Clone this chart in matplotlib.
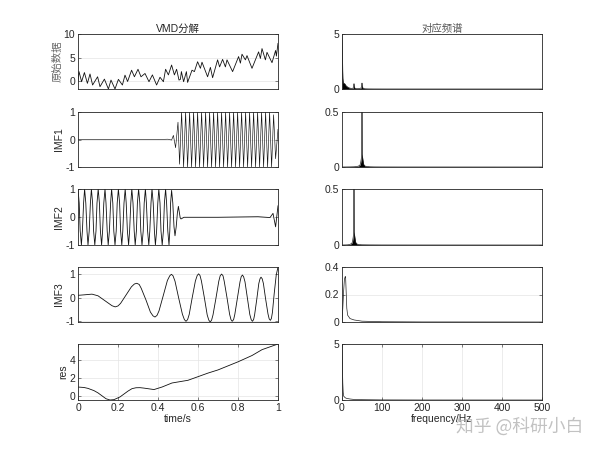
import matplotlib
matplotlib.use('Agg')
import matplotlib.pyplot as plt

# time series (extrema and some points in between)
raw_t = [0, .005, .018, .032, .047, .06, .073, .098, .11, .132, .152, .165, .185, .202, .222, .235, .248, .268,
         .282, .30, .315, .335, .355, .372, .393, .41, .427, .438, .452, .468, .482, .493, .505,
         .512, .517, .528, .542, .548, .57, .582, .598, .612, .62, .648, .662, .673, .698, .708, .723,
         .737, .745, .773, .803, .812, .82, .837, .845, .87, .903, .912, .92, .937, .945, .97, .988, .992, 1.0]
raw_y = [0, 2.0, -.15, 1.8, -.5, 1.5, -.85, .9, -1.2, .4, -1.7, .2, -1.7, .35, -.85, 1.25, -.1, 2.3,
         .9, 2.5, .9, 1.6, -.15, 1.3, -.85, .8, -.15, 2.5, 1.3, 3.4, 1.3, 2.5, .2,
         .35, 2.0, -.15, 2.0, -.3, 2.3, 2.0, 4.1, 2.7, 4.0, .9, 2.9, .7, 4.5, 3.0, 4.6,
         3.0, 4.5, 2.0, 5.2, 3.8, 5.7, 4.5, 5.4, 2.7, 6.2, 4.8, 6.9, 4.5, 6.1, 3.9, 6.5, 5.3, 8.0]

imf1_t = [0, .2, .40, .45, .468, .477, .488, .50, .508,
          .518, .528, .538, .548, .558, .568, .578, .588, .598, .608, .618, .628, .638, .648, .658, .668,
          .678, .688, .698, .708, .718, .728, .738, .748, .758, .768, .778, .788, .798, .808, .818, .828,
          .838, .848, .858, .868, .878, .888, .898, .908, .918, .928, .938, .948, .958, .968, .978, .988, 1.0]
imf1_y = [0, 0, 0, .01, -.02, .15, -.3, .63, -.9,
          1, -1, 1, -1, 1, -1, 1, -1, 1, -1, 1, -1, 1, -1, 1, -1,
          1, -1, 1, -1, 1, -1, 1, -1, 1, -1, 1, -1, 1, -1, 1, -1,
          1, -1, 1, -1, 1, -1, 1, -1, 1, -1, 1, -1, 1, -1, .9, -.7, .37]

imf2_t = [0, .006, .011, .017, .022, .028, .033, .039, .045, .050, .056, .062, .067, .073, .078, .084,
          .090, .095, .101, .107, .112, .118, .123, .129, .135, .140, .146, .151, .157, .163, .168,
          .174, .179, .185, .191, .196, .202, .208, .213, .219, .224, .230, .236, .241, .247, .253,
          .258, .264, .269, .275, .281, .286, .292, .297, .303, .309, .314, .320, .326, .331, .337,
          .342, .348, .354, .359, .365, .370, .376, .382, .387, .393, .399, .404, .410, .415, .421,
          .427, .432, .438, .443, .449, .455, .459, .463, .468, .474, .480, .485, .491, .497, .502,
          .507, .511, .515, .53, .70, .90, .96, .975, .988, 1.0]
imf2_y = [1, .5, -.5, -1, -.5, .5, 1, .5, -.5, -1, -.5, .5, 1, .5, -.5, -1,
          -.5, .5, 1, .5, -.5, -1, -.5, .5, 1, .5, -.5, -1, -.5, .5, 1,
          .5, -.5, -1, -.5, .5, 1, .5, -.5, -1, -.5, .5, 1, .5, -.5, -1,
          -.5, .5, 1, .5, -.5, -1, -.5, .5, 1, .5, -.5, -1, -.5, .5, 1,
          .5, -.5, -1, -.5, .5, 1, .5, -.5, -1, -.5, .5, 1, .5, -.5, -1,
          -.5, .5, 1, .5, -.5, -1, -.5, .5, .95, .5, -.35, -.67, -.35, .15, .38,
          .15, -.03, -.07, -.01, -.01, .01, -.02, .13, -.35, .4]

imf3_t = [0, .03, .07, .10, .12, .15, .17, .186, .20, .213, .24, .267, .282, .294, .306, .316, .34, .362, .375, .385,
          .395, .405, .426, .447, .459, .467, .475, .485, .503, .522, .532, .54, .548, .556, .571, .587, .596, .603,
          .61, .617, .632, .646, .654, .661, .668, .675, .69, .704, .711, .718, .725, .731, .745, .758, .765, .771,
          .778, .784, .797, .81, .816, .822, .828, .835, .847, .859, .866, .872, .878, .883, .894, .904, .91, .915,
          .921, .927, .938, .95, .956, .962, .967, .972, .981, .991, 1.0]
imf3_y = [.10, .12, .15, .08, -.04, -.22, -.34, -.39, -.35, -.24, .11, .46, .58, .61, .56, .40, -.10, -.61, -.77, -.82,
          -.75, -.56, .08, .73, .93, .99, .93, .70, 0, -.70, -.93, -1, -.93, -.71, 0, .71, .94, 1.01,
          .94, .71, -.01, -.73, -.95, -1.03, -.95, -.73, -.01, .70, .93, 1,
          .93, .70, 0, -.70, -.93, -1, -.93, -.71, -.02, .67, .89, .96, .89, .67, -.02, -.71, -.93, -1,
          -.93, -.73, -.06, .6, .8, .87, .8, .6, -.05, -.69, -.9, -.96, -.88, -.63, .17, .95, 1.3]

res_t = [0, .03, .05, .08, .1, .14, .16, .18, .21, .25, .27, .29, .31, .33, .38, .42, .47, .55, .6, .65, .7, .8, .87, .92, 1.0]
res_y = [1.0, .95, .85, .6, .35, -.3, -.44, -.4, -.1, .55, .82, .92, .93, .88, .72, 1.0, 1.45, 1.75, 2.15, 2.55, 2.9, 3.8, 4.5, 5.15, 5.78]

# spectra
raw_f = [0, .5, 1, 1.5, 2, 3, 4, 6, 8, 10, 14, 18, 22, 25, 27, 28.5, 29.5, 30, 30.5, 31.5, 33, 36, 40, 44, 46,
         48, 49.5, 50, 50.5, 52, 54, 58, 65, 80, 110, 200, 500]
raw_a = [5, 4.2, 3.0, 1.8, 1.0, .6, .5, .52, .42, .3, .18, .1, .06, .05, .07, .14, .3, .48, .3, .12, .06, .03, .03, .04, .06,
         .12, .3, .54, .3, .1, .05, .02, .01, .005, .002, .001, 0]

imf1_f = [0, 10, 20, 30, 38, 42, 44, 46, 48, 49, 49.7, 50, 50.3, 51, 52, 54, 56, 58, 62, 70, 80, 100, 150, 500]
imf1_a = [0, .0005, .001, .002, .005, .01, .014, .025, .07, .1, .12, .5, .12, .1, .07, .025, .014, .008, .005, .002, .001, .0005, .0002, 0]

imf2_f = [0, 5, 10, 15, 20, 22, 24, 26, 28, 29, 29.7, 30, 30.3, 31, 32, 34, 36, 38, 42, 50, 70, 100, 200, 500]
imf2_a = [0, .0005, .001, .002, .005, .01, .014, .025, .07, .1, .12, .5, .12, .1, .07, .025, .014, .008, .004, .002, .001, .0005, .0002, 0]

imf3_f = [0, 2, 4, 6, 8, 9, 10, 12, 14, 20, 30, 50, 100, 200, 500]
imf3_a = [0, .1, .22, .31, .33, .33, .25, .1, .05, .025, .015, .006, .002, .0005, 0]

res_f = [0, 1, 2, 3, 4, 6, 8, 12, 20, 30, 50, 100, 200, 500]
res_a = [5, 3, 1.5, .7, .35, .28, .2, .14, .09, .05, .03, .01, .002, 0]

# pixel boxes of the rows: top, bottom
rows = [(34, 89), (112, 167), (189, 245), (267, 322), (344, 400)]
left_labels = ['原始数据', 'IMF1', 'IMF2', 'IMF3', 'res']
left_series = [(raw_t, raw_y), (imf1_t, imf1_y), (imf2_t, imf2_y), (imf3_t, imf3_y), (res_t, res_y)]
left_ylims = [(-1.7, 10), (-1, 1), (-1, 1), (-1.03, 1.3), (-.44, 5.78)]
left_yticks = [[0, 5, 10], [-1, 0, 1], [-1, 0, 1], [-1, 0, 1], [0, 2, 4]]
right_series = [(raw_f, raw_a), (imf1_f, imf1_a), (imf2_f, imf2_a), (imf3_f, imf3_a), (res_f, res_a)]
right_ylims = [(0, 5), (0, .5), (0, .5), (0, .4), (0, 5)]
right_yticks = [[0, 5], [0, .5], [0, .5], [0, .2, .4], [0, 5]]
right_fill = [True, True, True, False, False]

DARK = '#262626'
CJK = ['Noto Sans CJK SC', 'DejaVu Sans']


def make_axes(fig, x0, top, bottom):
    ax = fig.add_axes([x0 / 600, 1 - bottom / 450, 200 / 600, (bottom - top) / 450])
    for s in ax.spines.values():
        s.set_linewidth(0.6)
        s.set_color(DARK)
    ax.tick_params(direction='in', length=2, width=0.4, top=True, right=True, labelsize=7.5,
                   colors=DARK, pad=2)
    ax.grid(True, color='#e4e4e4', linewidth=0.5)
    ax.set_axisbelow(True)
    return ax


def main():
    plt.rcParams['font.family'] = ['Liberation Sans', 'Noto Sans CJK SC', 'DejaVu Sans']
    fig = plt.figure(figsize=(6, 4.5), dpi=100)

    for i, (top, bottom) in enumerate(rows):
        ax = make_axes(fig, 78, top, bottom)
        # IMF1 reads grey in the reference, the cycles are so tight
        ax.plot(*left_series[i], color='#111111', linewidth=0.45 if i == 1 else 0.6)
        ax.set_xlim(0, 1)
        ax.set_ylim(*left_ylims[i])
        ax.set_yticks(left_yticks[i])
        ax.set_yticklabels(['%g' % v for v in left_yticks[i]])
        if i == 0:
            ax.set_ylabel(left_labels[i], fontsize=7.5, color='#666666', family=CJK, labelpad=1)
            ax.set_title('VMD分解', fontsize=7.5, color=DARK, pad=1.5)
        else:
            ax.set_ylabel(left_labels[i], fontsize=7.5, color=DARK, labelpad=1)
        if i == 4:
            ax.set_xticks([0, .2, .4, .6, .8, 1])
            ax.set_xticklabels(['0', '0.2', '0.4', '0.6', '0.8', '1'])
            ax.set_xlabel('time/s', fontsize=7.5, color=DARK, labelpad=1)
        else:
            ax.set_xticks([])

        ax = make_axes(fig, 342, top, bottom)
        f, a = right_series[i]
        if right_fill[i]:
            ax.fill_between(f, 0, a, color='black', linewidth=0)
        ax.plot(f, a, color='#222222', linewidth=0.5)
        ax.set_xlim(0, 500)
        ax.set_ylim(*right_ylims[i])
        ax.set_yticks(right_yticks[i])
        ax.set_yticklabels(['%g' % v for v in right_yticks[i]])
        if i == 0:
            ax.set_title('对应频谱', fontsize=7.5, color='#555555', family=CJK, pad=1.5)
        if i == 4:
            ax.set_xticks([0, 100, 200, 300, 400, 500])
            ax.set_xlabel('frequency/Hz', fontsize=7.5, color=DARK, labelpad=1)
        else:
            ax.set_xticks([])

    # watermark
    fig.text(456 / 600, 1 - 426 / 450, '知乎 @科研小白', fontsize=12.8, color='#b8b8b8', alpha=0.85,
             family=CJK, va='center', ha='left')

    fig.savefig('out.png', dpi=100)
    plt.close(fig)


if __name__ == '__main__':
    main()
